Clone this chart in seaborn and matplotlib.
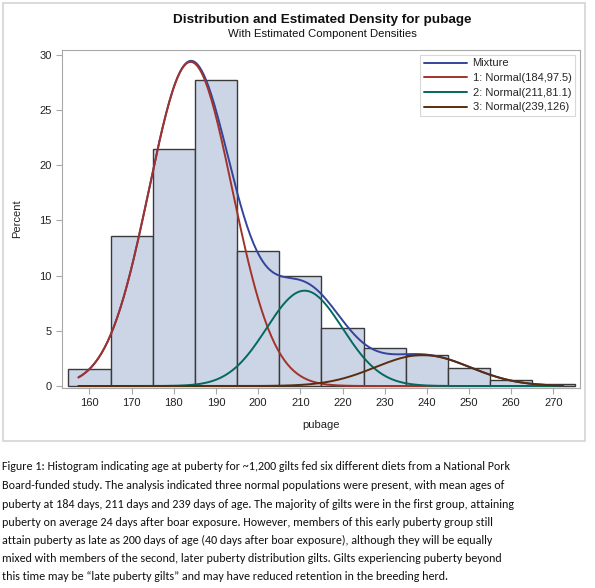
import numpy as np
import pandas as pd
import seaborn as sns
import matplotlib.pyplot as plt
from matplotlib.patches import Rectangle

# histogram bins (pubage, days) and percent per bin
bin_edges = [155, 165, 175, 185, 195, 205, 215, 225, 235, 245, 255, 265, 275]
bin_pct = [1.5, 13.6, 21.5, 27.7, 12.2, 10.0, 5.25, 3.45, 2.8, 1.6, 0.55, 0.15]

# fitted mixture components (mean, variance from legend; proportions estimated)
comp_names = ["1: Normal(184,97.5)", "2: Normal(211,81.1)", "3: Normal(239,126)"]
comp_mean = [184, 211, 239]
comp_var = [97.5, 81.1, 126]
comp_prop = [0.727, 0.195, 0.079]

caption = [
    "Figure 1: Histogram indicating age at puberty for ~1,200 gilts fed six different diets from a National Pork",
    "Board-funded study. The analysis indicated three normal populations were present, with mean ages of",
    "puberty at 184 days, 211 days and 239 days of age. The majority of gilts were in the first group, attaining",
    "puberty on average 24 days after boar exposure. However, members of this early puberty group still",
    "attain puberty as late as 200 days of age (40 days after boar exposure), although they will be equally",
    "mixed with members of the second, later puberty distribution gilts. Gilts experiencing puberty beyond",
    "this time may be \u201clate puberty gilts\u201d and may have reduced retention in the breeding herd.",
]

sns.set_style("white")
plt.rcParams['font.family'] = ['Liberation Sans', 'DejaVu Sans']

W, H = 595, 588
fig = plt.figure(figsize=(W / 100, H / 100), dpi=100)
ax = fig.add_axes([62 / W, 1 - 388 / H, (580 - 62) / W, (388 - 50) / H])

# outer chart frame
fig.patches.append(Rectangle((3 / W, 1 - 441 / H), 582 / W, 438 / H, transform=fig.transFigure,
                             fill=False, edgecolor="#d4d4d4", lw=1.2))

mids = [(a + b) / 2 for a, b in zip(bin_edges[:-1], bin_edges[1:])]
sns.histplot(x=mids, weights=bin_pct, bins=bin_edges, ax=ax, color="#cbd5e6", alpha=1,
             edgecolor="#3a3a3a", linewidth=1.0)

# density curves in percent scale (bin width 10)
binw = 10
xs = np.linspace(157.4, 272.3, 300)
curves = []
for p, m, v in zip(comp_prop, comp_mean, comp_var):
    curves.append(100 * binw * p * np.exp(-(xs - m) ** 2 / (2 * v)) / np.sqrt(2 * np.pi * v))
mix = np.sum(curves, axis=0)

sns.lineplot(x=xs, y=mix, ax=ax, color="#34449a", lw=1.4, label="Mixture")
for c, name, col in zip(curves, comp_names, ["#a3322a", "#04695f", "#5a2d0c"]):
    sns.lineplot(x=xs, y=c, ax=ax, color=col, lw=1.4, label=name)

ax.set_xlim(153.5, 276.3)
ax.set_ylim(-0.18, 30.45)
ax.set_xticks(range(160, 271, 10))
ax.set_yticks(range(0, 31, 5))
for s in ax.spines.values():
    s.set_color("#a8a8a8")
    s.set_visible(True)
ax.tick_params(axis="both", length=4, width=0.8, color="#a8a8a8", direction="out",
               labelsize=8, labelcolor="#222222", bottom=True, left=True)
ax.set_xlabel("pubage", fontsize=8, color="#222222", labelpad=8)
ax.set_ylabel("Percent", fontsize=8, color="#222222", labelpad=12)

leg = ax.legend(loc="upper right", fontsize=8, frameon=True, handlelength=3.9,
                handletextpad=0.5, borderpad=0.3, labelspacing=0.42, fancybox=False,
                borderaxespad=0, bbox_to_anchor=(0.99, 0.985))
leg.get_frame().set_edgecolor("#cfcfcf")
leg.get_frame().set_linewidth(0.8)

fig.text(322 / W, 1 - 20 / H, "Distribution and Estimated Density for pubage", ha="center",
         va="center", fontsize=9.7, fontweight="bold", color="#111111")
fig.text(322 / W, 1 - 34 / H, "With Estimated Component Densities", ha="center",
         va="center", fontsize=8.2, color="#111111")

ys = [467, 485.5, 504, 522, 540, 558, 576]
for line, y in zip(caption, ys):
    fig.text(2 / W, 1 - y / H, line, ha="left", va="center", fontsize=8.65,
             family=['Carlito', 'Lato', 'DejaVu Sans'], color="#111111")

fig.savefig("out.png", dpi=100, facecolor="white")
